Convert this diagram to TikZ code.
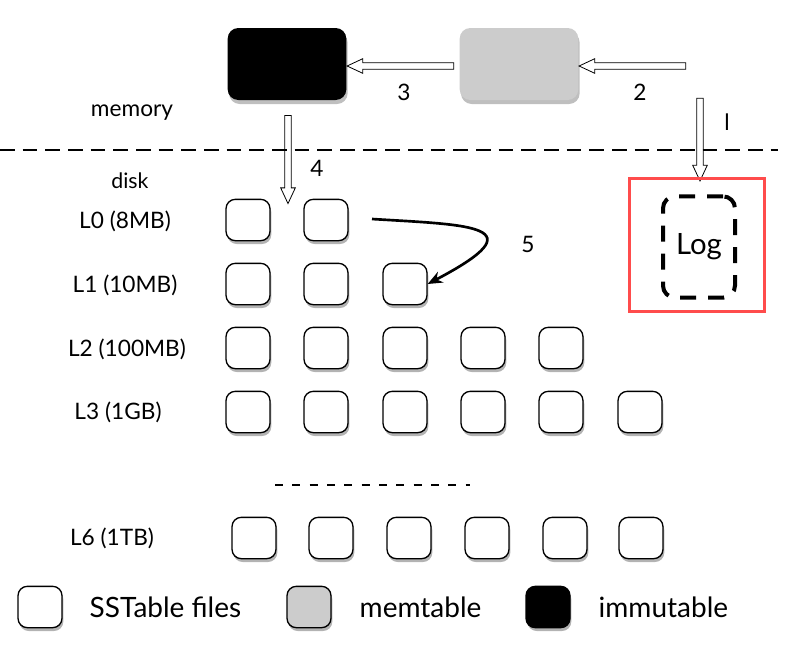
\documentclass[tikz,border=0pt]{standalone}
\usepackage{fontspec}
\setmainfont{Lato}
\usetikzlibrary{shapes.arrows,shadows,arrows.meta}
\begin{document}
\begin{tikzpicture}[x=0.75pt,y=-0.75pt,
  sst/.style={draw,line width=1pt,fill=white,rounded corners=7pt,minimum width=33pt,minimum height=31pt,inner sep=0pt,drop shadow={shadow xshift=1pt,shadow yshift=-2.5pt,opacity=0.6}},
  big/.style={rounded corners=8pt,minimum width=89pt,minimum height=54pt,inner sep=0pt,drop shadow={shadow xshift=1pt,shadow yshift=-3pt,opacity=0.5}},
  harrow/.style={single arrow,draw,fill=white,line width=0.6pt,single arrow head extend=3pt,single arrow tip angle=50,inner xsep=0pt,inner ysep=2.2pt},
  num/.style={font=\fontsize{17}{20}\selectfont},
  lvl/.style={font=\fontsize{17}{20}\selectfont},
  leg/.style={font=\fontsize{21}{24}\selectfont,anchor=west}]
\useasboundingbox (0,0) rectangle (808,654);
\node[big,fill=black] (imm) at (287,64) {};
\node[big,fill=black!20] (mem) at (519,64) {};
\node[harrow,minimum height=80pt,rotate=180] (a2) at (636,66) {};
\node[harrow,minimum height=80pt,rotate=180] (a3) at (404,66) {};
\node[harrow,minimum height=62pt,rotate=-90] (a1) at (700,136) {};
\node[harrow,minimum height=66pt,rotate=-90] (a4) at (288,156) {};
\node[num] (n3) at (404,92) {3};
\node[num] (n2) at (640,92) {2};
\node[num] (n1) at (727,122) {l};
\node[num] (n4) at (317,168) {4};
\node[num] (n5) at (528,244) {5};
\coordinate (dl) at (0,150); \coordinate (dr) at (778,150);
\draw[line width=2.2pt,dash pattern=on 11pt off 6pt] (dl) -- (dr);
\node[font=\fontsize{17}{20}\selectfont] (memory) at (132,113) {memory};
\node[font=\fontsize{16}{19}\selectfont] (disk) at (130,181) {disk};
\node[draw=red!70,line width=2pt,minimum width=101pt,minimum height=100pt] (logbox) at (697,245) {};
\node[draw,line width=3pt,dash pattern=on 12pt off 9pt,rounded corners=9pt,minimum width=54pt,minimum height=76pt,font=\fontsize{22}{26}\selectfont] (log) at (699,247) {Log};
\node[lvl] (l0) at (125,221) {L0 (8MB)};
\node[lvl] (l1) at (125,285) {L1 (10MB)};
\node[lvl] (l2) at (127,349) {L2 (100MB)};
\node[lvl] (l3) at (118,412) {L3 (1GB)};
\node[lvl] (l6) at (112,538) {L6 (1TB)};
\foreach \i/\x in {1/248,2/326}{\node[sst] (a\i) at (\x,220) {};}
\foreach \i/\x in {1/248,2/326,3/405}{\node[sst] (b\i) at (\x,284) {};}
\foreach \i/\x in {1/248,2/326,3/405,4/483,5/561}{\node[sst] (c\i) at (\x,348) {};}
\foreach \i/\x in {1/248,2/326,3/405,4/483,5/561,6/640}{\node[sst] (d\i) at (\x,412) {};}
\foreach \i/\x in {1/254,2/331,3/409,4/487,5/565,6/641}{\node[sst] (e\i) at (\x,538) {};}
\coordinate (c5s) at (372,219);
\draw[line width=2pt,-{Stealth[length=11pt,width=9pt]}] (c5s) .. controls (470,225) and (540,225) .. (b3.east);
\coordinate (ds) at (275,485); \coordinate (de) at (470,485);
\draw[line width=2pt,dash pattern=on 6pt off 7pt] (ds) -- (de);
\node[sst] (k1) at (40,607) {};
\node[sst,fill=black!20] (k2) at (309,607) {};
\node[sst,fill=black] (k3) at (548,607) {};
\node[leg] (t1) at (85,607) {SSTable files};
\node[leg] (t2) at (355,607) {memtable};
\node[leg] (t3) at (594,607) {immutable};
\end{tikzpicture}
\end{document}
